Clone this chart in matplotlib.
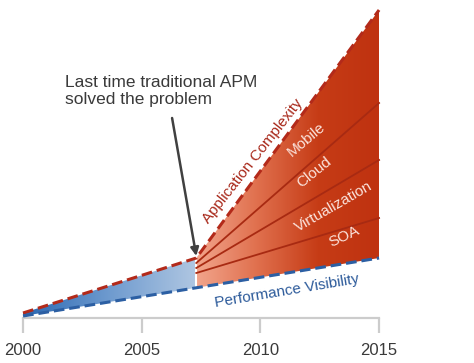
import matplotlib
matplotlib.use("Agg")
import matplotlib.pyplot as plt
import numpy as np
from matplotlib.patches import Polygon
from matplotlib.colors import LinearSegmentedColormap

plt.rcParams['font.family'] = ['Liberation Sans', 'DejaVu Sans']

# ---------------- data (years, arbitrary "complexity" units) ----------------
years_ticks = [2000, 2005, 2010, 2015]
t_start, t_break, t_end = 2000, 2007.3, 2015

# Performance Visibility (blue dashed)
vis_x = [2000, 2015]
vis_y = [2, 60]

# Application Complexity (red dashed)
cmp_x = [2000, 2007.3, 2015]
cmp_y = [5, 60, 308]

# inner dividing lines in the red wedge (start at break, end at 2015)
div_start = [55, 50, 45]
div_end = [215, 158, 100]

# labels for the bands
band_labels = ["Mobile", "Cloud", "Virtualization", "SOA"]
band_pos = [(2011.95, 178), (2012.25, 146), (2013.1, 111), (2013.55, 81)]
band_rot = [40, 39, 30, 25]

def vis_at(x):
    return np.interp(x, vis_x, vis_y)

# ---------------- figure ----------------
fig = plt.figure(figsize=(4.74, 3.63), dpi=100)
ax = fig.add_axes([0, 0, 1, 1])
ax.set_xlim(1999.03, 2019.0)
ax.set_ylim(-45, 318)

# blue gradient region (2000 -> break)
blue_poly = Polygon([(t_start, vis_y[0]), (t_break, vis_at(t_break)),
                     (t_break, cmp_y[1]), (t_start, cmp_y[0])], closed=True,
                    facecolor='none', edgecolor='none')
ax.add_patch(blue_poly)
bcmap = LinearSegmentedColormap.from_list('b', ['#2a68b2', '#6f9bcf', '#b0c7e2'])
grad = np.linspace(0, 1, 256).reshape(1, -1)
im = ax.imshow(grad, extent=[t_start, t_break, 0, 70], aspect='auto',
               cmap=bcmap, origin='lower', zorder=1)
im.set_clip_path(blue_poly)

# red gradient region (break -> 2015)
red_poly = Polygon([(t_break, vis_at(t_break)), (t_end, vis_y[1]),
                    (t_end, cmp_y[2]), (t_break, cmp_y[1])], closed=True,
                   facecolor='none', edgecolor='none')
ax.add_patch(red_poly)
rcmap = LinearSegmentedColormap.from_list('r', ['#f2a58c', '#e0704e', '#c63c16', '#bf3210'])
im2 = ax.imshow(grad, extent=[t_break, t_end, 0, 310], aspect='auto',
                cmap=rcmap, origin='lower', zorder=1)
im2.set_clip_path(red_poly)

# white separator
ax.plot([t_break, t_break], [vis_at(t_break), cmp_y[1]], color='white', lw=1.5, zorder=2)

# inner lines
for s, e in zip(div_start, div_end):
    ax.plot([t_break, t_end], [s, e], color='#a82a12', lw=1.3, zorder=2)

# dashed boundary lines
ax.plot(cmp_x, cmp_y, color='#b32a1a', lw=2.2, ls=(0, (3.5, 1.6)), zorder=3)
ax.plot(vis_x, vis_y, color='#2c5fa3', lw=2.2, ls=(0, (3.5, 1.6)), zorder=3)

# band labels
for lab, (x, y), r in zip(band_labels, band_pos, band_rot):
    ax.text(x, y, lab, color='#fbe3dc', fontsize=11, rotation=r,
            ha='center', va='center', rotation_mode='anchor', zorder=4)

ax.text(2009.7, 157, "Application Complexity", color='#a8281a', fontsize=11,
        rotation=52, ha='center', va='center', rotation_mode='anchor', zorder=4)
ax.text(2011.1, 27, "Performance Visibility", color='#2c5a9a', fontsize=11,
        rotation=9.5, ha='center', va='center', rotation_mode='anchor', zorder=4)

# annotation
ax.text(2001.75, 227, "Last time traditional APM\nsolved the problem",
        fontsize=12.5, color='#3a3a3a', ha='left', va='center',
        linespacing=1.1, zorder=5)
ax.annotate("", xy=(2007.3, 62), xytext=(2006.28, 200),
            arrowprops=dict(arrowstyle='-|>', color='#404040', lw=1.8,
                            shrinkA=0, shrinkB=0, mutation_scale=12),
            zorder=5)

# axis
for s in ['top', 'right', 'left']:
    ax.spines[s].set_visible(False)
ax.spines['bottom'].set_position(('data', 0))
ax.spines['bottom'].set_bounds(2000, 2015)
ax.spines['bottom'].set_color('#cccccc')
ax.spines['bottom'].set_linewidth(1.6)
ax.set_xticks(years_ticks)
ax.set_xticklabels([str(y) for y in years_ticks])
ax.tick_params(axis='x', direction='out', length=11, width=1.6, color='#cccccc',
               labelsize=12, labelcolor='#3a3a3a', pad=7)
ax.set_yticks([])

fig.savefig("out.png", dpi=100)
